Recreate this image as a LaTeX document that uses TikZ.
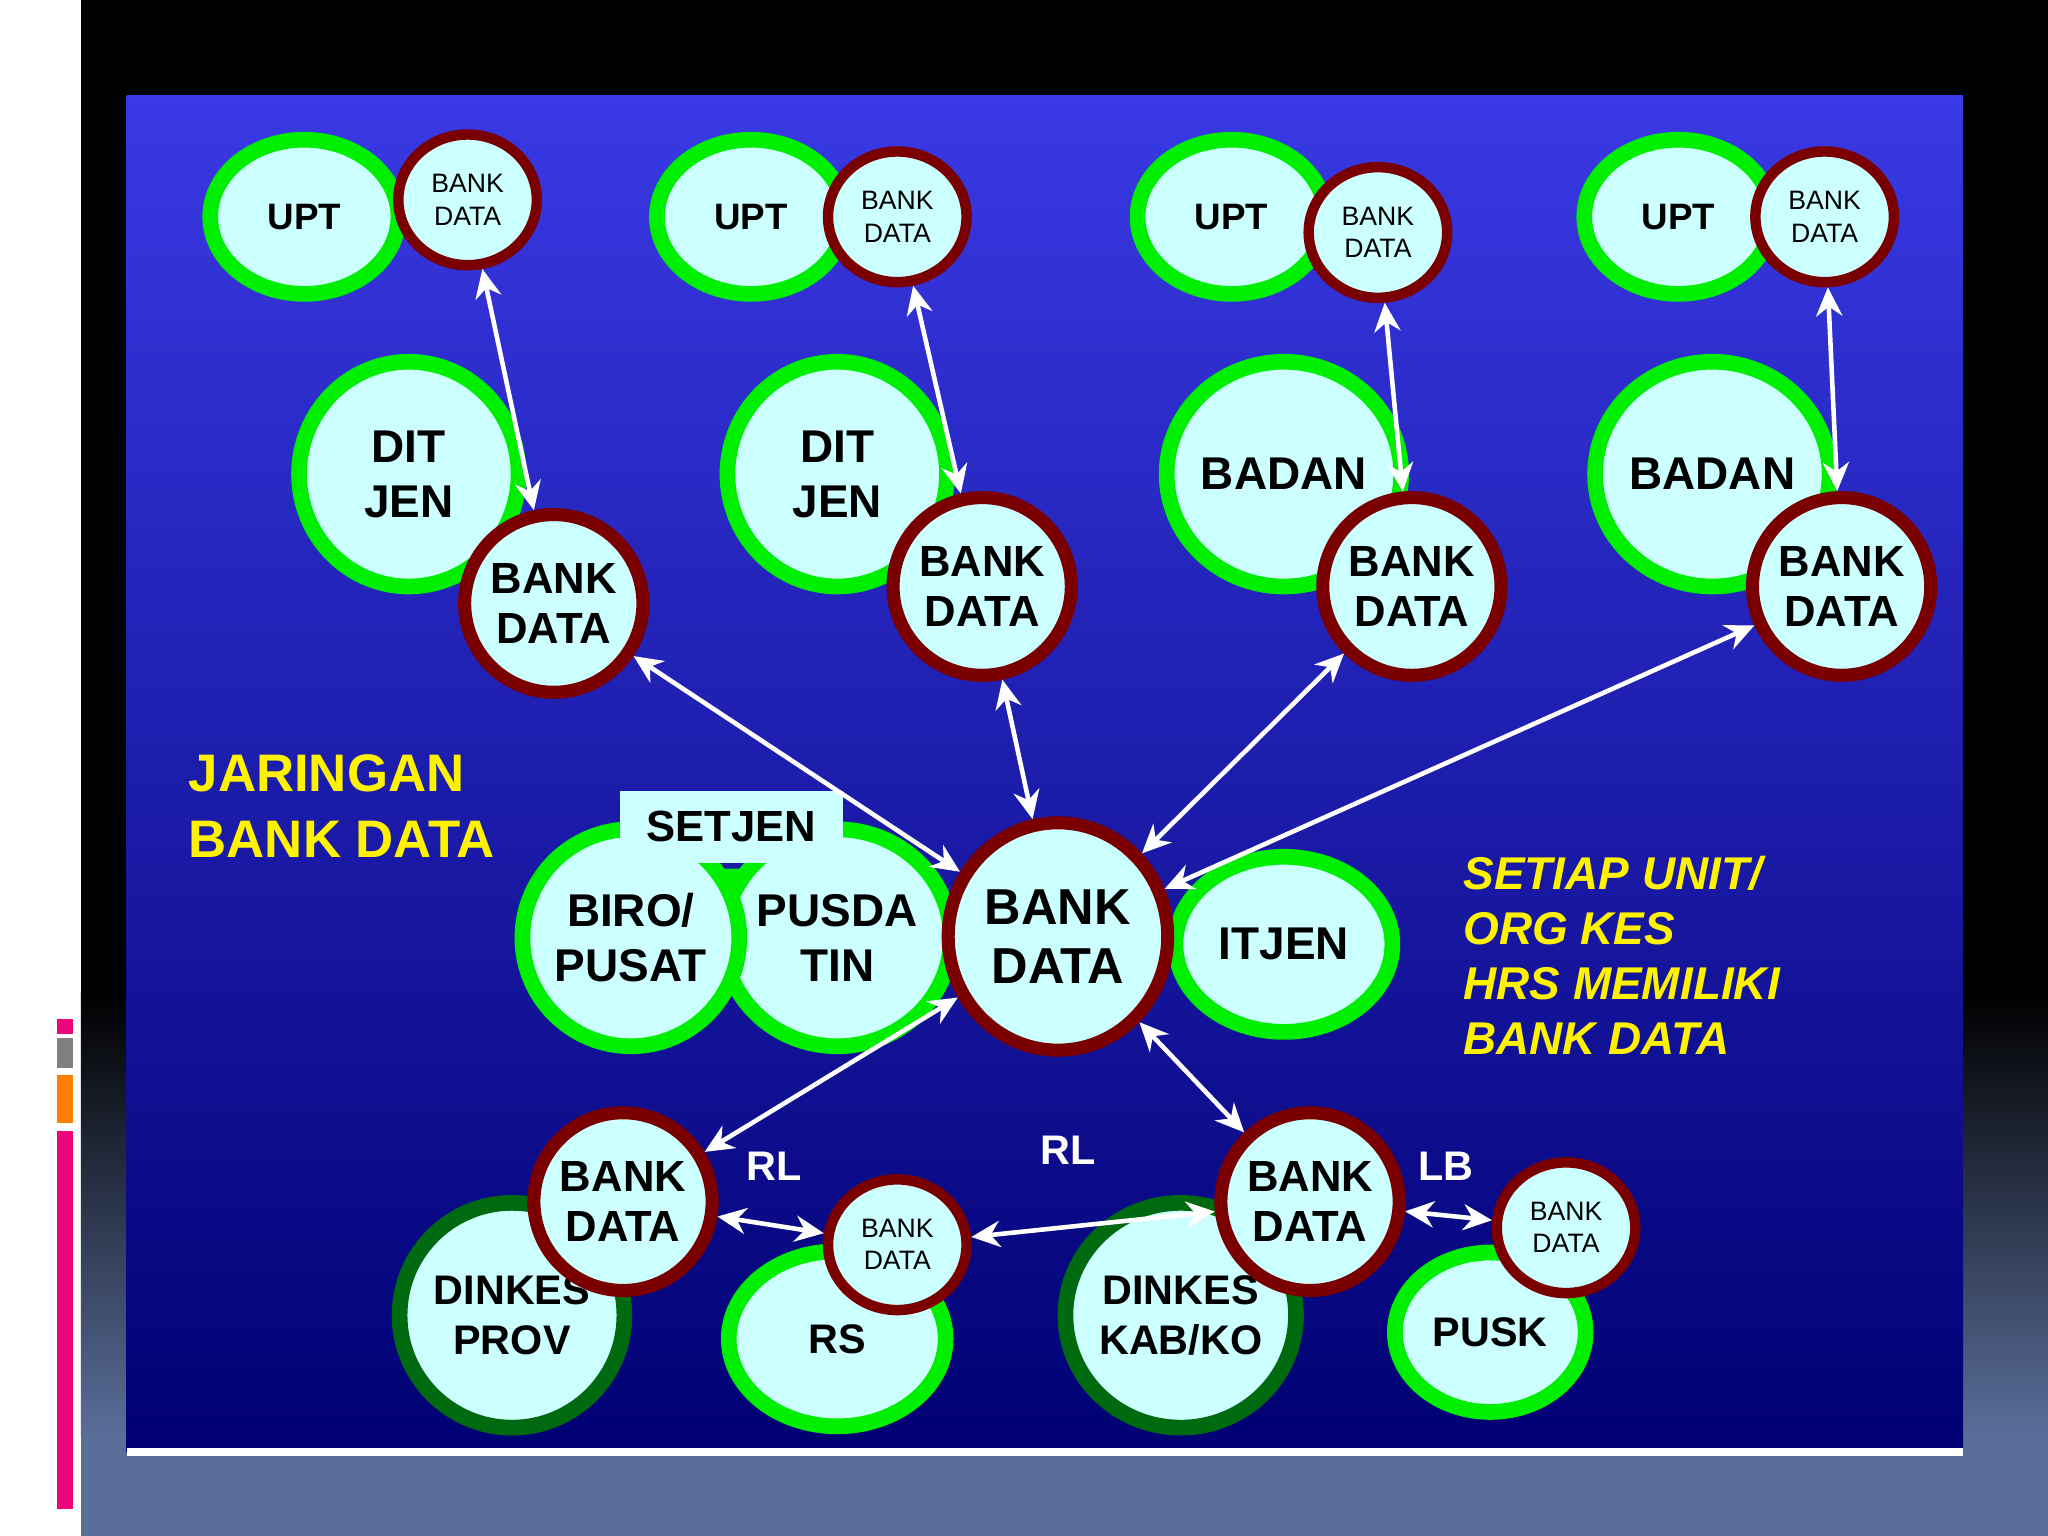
\documentclass[tikz,border=0pt]{standalone}
\usepackage{fontspec}
\setmainfont{Liberation Sans}
\usetikzlibrary{shapes.geometric,arrows.meta}
\definecolor{cy}{HTML}{CCFFFF}
\definecolor{gr}{HTML}{00EE00}
\definecolor{dg}{HTML}{006A10}
\definecolor{dr}{HTML}{7A0000}
\definecolor{bot}{HTML}{5A6E9A}
\tikzset{
 base/.style={ellipse,fill=cy,inner sep=0pt,align=center,font=\bfseries},
 gn/.style={base,draw=gr,line width=0.12cm},
 dgn/.style={base,draw=dg,line width=0.12cm},
 bd/.style={base,draw=dr,line width=0.1cm,minimum width=1.36cm,minimum height=1.36cm,font=\bfseries\fontsize{9.5}{11}\selectfont},
 sbd/.style={base,draw=dr,line width=0.08cm,minimum width=1.06cm,minimum height=1.0cm,font=\fontsize{5.8}{7}\selectfont},
 arr/.style={draw=white,line width=0.35mm,{Stealth[length=2.2mm,width=2mm]}-{Stealth[length=2.2mm,width=2mm]}},
 lbl/.style={text=white,font=\bfseries\fontsize{9}{11}\selectfont},
 mid/.style={font=\bfseries\fontsize{10}{12}\selectfont},
}
\begin{document}
\begin{tikzpicture}[x=0.01cm,y=-0.01cm]
\useasboundingbox (0,0) rectangle (1568,1176);
\fill[white] (0,0) rectangle (62,1176);
\fill[black] (62,0) rectangle (1568,760);
\shade[top color=black,bottom color=bot] (62,760) rectangle (1568,1100);
\fill[bot] (62,1100) rectangle (1568,1176);
\foreach \i in {0,...,5}{\fill[white] (36+4*\i,115) rectangle (38+4*\i,180);}
\fill[magenta!80!red] (44,780) rectangle (56,792);
\fill[gray] (44,795) rectangle (56,818);
\fill[orange] (44,823) rectangle (56,860);
\fill[magenta!80!red] (44,866) rectangle (56,1155);
\shade[top color=blue!75!white!90!black,bottom color=blue!45!black] (97,73) rectangle (1503,1112);
\draw[white,line width=0.6mm] (97,1112) -- (1503,1112);
% top row
\foreach \n/\x/\bx/\by in {1/233/358/153,2/575/687/166,3/943/1055/178,4/1285/1397/166}{
 \node[gn,minimum width=1.44cm,minimum height=1.18cm,font=\bfseries\fontsize{8}{10}\selectfont] (upt\n) at (\x,166) {UPT};
 \node[sbd] (sb\n) at (\bx,\by) {BANK\\DATA};
}
\node[gn,mid,minimum width=1.68cm,minimum height=1.72cm] (dj1) at (313,363) {DIT\\JEN};
\node[bd] (b1) at (424,462) {BANK\\DATA};
\node[gn,mid,minimum width=1.68cm,minimum height=1.72cm] (dj2) at (641,363) {DIT\\JEN};
\node[bd] (b2) at (752,449) {BANK\\DATA};
\node[gn,mid,minimum width=1.68cm,minimum height=1.72cm] (ba1) at (983,363) {BADAN};
\node[bd] (b3) at (1081,449) {BANK\\DATA};
\node[gn,mid,minimum width=1.68cm,minimum height=1.72cm] (ba2) at (1311,363) {BADAN};
\node[bd] (b4) at (1410,449) {BANK\\DATA};
% middle
\node[gn,mid,minimum width=1.66cm,minimum height=1.66cm] (pus) at (641,718) {PUSDA\\TIN};
\node[gn,mid,minimum width=1.66cm,minimum height=1.66cm] (biro) at (483,718) {BIRO/\\PUSAT};
\fill[gr] (548,665) -- (578,665) -- (563,685) -- cycle;
\node[fill=cy,minimum width=1.7cm,minimum height=0.55cm,font=\bfseries\fontsize{9.5}{11}\selectfont] (setjen) at (560,633) {SETJEN};
\node[gn,mid,minimum width=1.66cm,minimum height=1.34cm] (itjen) at (983,723) {ITJEN};
\node[bd,minimum width=1.68cm,minimum height=1.74cm,font=\bfseries\fontsize{11}{13}\selectfont] (c) at (810,717) {BANK\\DATA};
% bottom
\node[dgn,minimum width=1.72cm,minimum height=1.72cm,font=\bfseries\fontsize{9}{11}\selectfont] (dp) at (392,1007) {DINKES\\PROV};
\node[bd] (b5) at (477,920) {BANK\\DATA};
\node[gn,minimum width=1.66cm,minimum height=1.34cm,font=\bfseries\fontsize{9}{11}\selectfont] (rs) at (641,1025) {RS};
\node[sbd] (sb5) at (687,953) {BANK\\DATA};
\node[dgn,minimum width=1.72cm,minimum height=1.72cm,font=\bfseries\fontsize{9}{11}\selectfont] (dk) at (904,1007) {DINKES\\KAB/KO};
\node[bd] (b6) at (1003,920) {BANK\\DATA};
\node[gn,minimum width=1.46cm,minimum height=1.22cm,font=\bfseries\fontsize{9}{11}\selectfont] (pusk) at (1141,1020) {PUSK};
\node[sbd] (sb6) at (1199,940) {BANK\\DATA};
% arrows
\foreach \a/\b in {sb1/b1,sb2/b2,sb3/b3,sb4/b4,b1/c,b2/c,b3/c,b4/c,c/b5,c/b6,b5/sb5,sb5/b6,b6/sb6}{\draw[arr] (\a) -- (\b);}
\node[lbl] (rl1) at (593,893) {RL};
\node[lbl] (rl2) at (818,881) {RL};
\node[lbl] (lb) at (1107,893) {LB};
\node[anchor=north west,align=left,text=yellow,font=\bfseries\fontsize{11.5}{14.5}\selectfont] (jar) at (132,565) {JARINGAN\\BANK DATA};
\node[anchor=north west,align=left,text=yellow,font=\bfseries\itshape\fontsize{10}{12}\selectfont] (set) at (1108,643) {SETIAP UNIT/\\ORG KES\\HRS MEMILIKI\\BANK DATA};
\end{tikzpicture}
\end{document}
